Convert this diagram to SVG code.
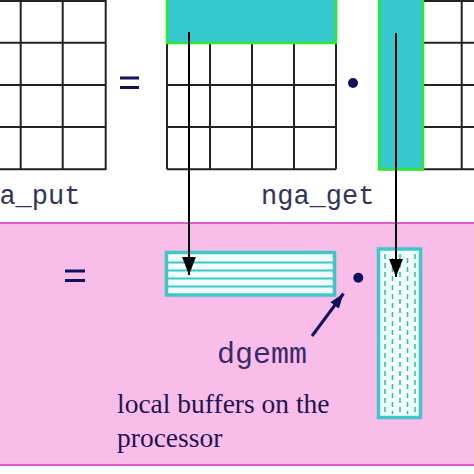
<svg xmlns="http://www.w3.org/2000/svg" width="474" height="474" viewBox="0 0 474 474">
<style>
.grid{stroke:#222;stroke-width:2;fill:none}
.sel{fill:#36c8cc;stroke:#2ee82e;stroke-width:2.5}
.mono{font-family:"Liberation Mono","Courier New",monospace;fill:#34345a}
.serif{font-family:"Liberation Serif","Times New Roman",serif;fill:#1e1450;font-size:27.5px}
.navy{fill:#12125c}
.buf{fill:#f2ffff;stroke:#40c6c6;stroke-width:3.5}
.hl{stroke:#40c6c6;stroke-width:2}
.dl{stroke:#40b8b8;stroke-width:1.6;stroke-dasharray:5 4}
.conn{stroke:#000;stroke-width:2;fill:none}
</style>
<defs>
<marker id="ah" markerUnits="userSpaceOnUse" markerWidth="18" markerHeight="14" refX="17" refY="6.5" orient="auto" viewBox="0 0 17 13">
<path d="M0,0 L17,6.5 L0,13 Z" fill="#000"/>
</marker>
<marker id="ahn" markerUnits="userSpaceOnUse" markerWidth="15" markerHeight="12" refX="14" refY="5" orient="auto" viewBox="0 0 14 10">
<path d="M0,0 L14,5 L0,10 Z" fill="#12125c"/>
</marker>
</defs>
<rect width="474" height="474" fill="#fff"/>
<g id="processor">
<rect x="-5" y="223" width="484" height="242" fill="#f8bde9" stroke="#e05ad2" stroke-width="2"/>
</g>
<g id="gridC">
<path class="grid" d="M-5,1 H105.7 M-5,42.7 H105.7 M-5,85 H105.7 M-5,127 H105.7 M-5,169.3 H105.7 M20.7,0 V169.3 M62.7,0 V169.3 M105.7,0 V170"/>
<text class="mono" x="-33" y="204" font-size="27">nga_put</text>
</g>
<g id="eq1">
<rect class="navy" x="120" y="76.5" width="19" height="3"/>
<rect class="navy" x="120" y="86" width="19" height="3"/>
</g>
<g id="gridA">
<path class="grid" d="M167,85 H336 M167,127 H336 M167,169.3 H336 M167,43 V169.3 M210,43 V169.3 M252,43 V169.3 M294,43 V169.3 M336,43 V169.3"/>
<rect class="sel" x="167" y="-2" width="169" height="45"/>
<text class="mono" x="261" y="203.5" font-size="27">nga_get</text>
</g>
<g id="dot1"><circle class="navy" cx="353" cy="83" r="5"/></g>
<g id="gridB">
<path class="grid" d="M379,1 H480 M423,42.7 H480 M423,85 H480 M423,127 H480 M379,169.3 H480 M461.7,0 V169.3"/>
<rect class="sel" x="379" y="-2" width="44" height="171.3"/>
</g>
<g id="eq2">
<rect class="navy" x="65" y="269.5" width="20" height="3"/>
<rect class="navy" x="65" y="279" width="20" height="3"/>
</g>
<g id="bufA">
<rect class="buf" x="166.5" y="252.5" width="168" height="42.5"/>
<path class="hl" d="M168,262.5 H333 M168,270.5 H333 M168,278.5 H333 M168,286.5 H333"/>
</g>
<g id="dot2"><circle class="navy" cx="358.3" cy="277.7" r="5"/></g>
<g id="bufB">
<rect class="buf" x="378.5" y="249" width="42" height="168.5"/>
<path class="dl" d="M385,254 V414 M392.5,258 V414 M400,254 V414 M407.5,258 V414 M415,254 V414"/>
</g>
<g id="dgemm">
<text class="mono" x="217" y="363" font-size="30" style="fill:#3a2a6a">dgemm</text>
</g>
<g id="label">
<text class="serif" x="117" y="413">local buffers on the</text>
<text class="serif" x="117" y="447">processor</text>
</g>
<g id="connectors">
<line class="conn" x1="189" y1="32" x2="189" y2="275" marker-end="url(#ah)"/>
<line class="conn" x1="396" y1="33" x2="396" y2="277" marker-end="url(#ah)"/>
<line x1="312" y1="336" x2="343.5" y2="293.5" stroke="#12125c" stroke-width="3" marker-end="url(#ahn)"/>
</g>
</svg>
